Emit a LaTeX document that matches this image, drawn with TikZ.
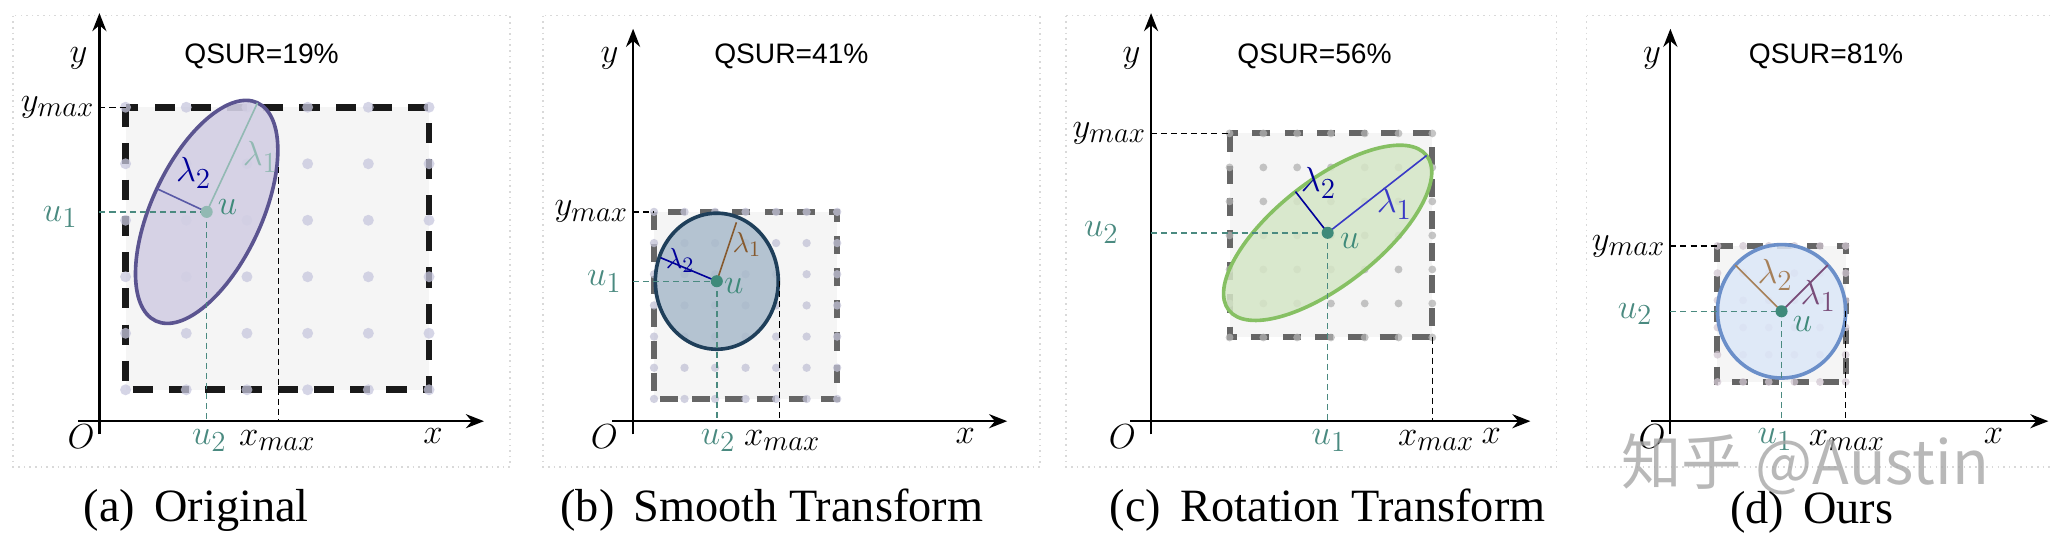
\documentclass[tikz,border=0pt]{standalone}
\usepackage{fontspec}
\setmainfont{Liberation Serif}
\newfontfamily\qsf{Liberation Sans}
\newfontfamily\cjk{Noto Sans CJK SC}
\usetikzlibrary{arrows.meta}
\definecolor{teal1}{HTML}{4A8A80}
\definecolor{udot}{HTML}{3F8A7A}
\definecolor{fa}{HTML}{D3CFE4}\definecolor{da}{HTML}{5B5490}
\definecolor{fb}{HTML}{A9BBCB}\definecolor{db}{HTML}{1F3F5A}
\definecolor{fc}{HTML}{D5E6C6}\definecolor{dc}{HTML}{86C063}
\definecolor{fd}{HTML}{DCE7F8}\definecolor{dd}{HTML}{6B8FC9}
\tikzset{
 x=0.65pt,y=-0.65pt,
 frm/.style={draw=black!15,dotted,line width=0.8pt},
 ax/.style={line width=1.1pt,-{Stealth[length=9pt,width=7pt]}},
 lab/.style={font=\fontsize{19}{22}\selectfont,inner sep=1pt},
 qs/.style={font=\qsf\fontsize{14}{16}\selectfont},
 captext/.style={font=\fontsize{23}{26}\selectfont},
 guide/.style={line width=0.7pt,dash pattern=on 3pt off 2pt},
 uguide/.style={teal1,line width=0.7pt,dash pattern=on 3pt off 2pt},
 udotst/.style={circle,fill=udot,inner sep=0pt,minimum size=6pt},
}
\newcommand{\dotgrid}[7]{%
 \foreach \i in {0,...,#5}{\foreach \j in {0,...,#5}{%
  \fill[#6,opacity=0.75] ({#1+\i*(#3-#1)/#5},{#2+\j*(#4-#2)/#5}) circle (#7);}}}
\begin{document}
\begin{tikzpicture}
\useasboundingbox (0,0) rectangle (1568,417);
% ---------- (a)
\draw[frm] (10,12) rectangle (390,357);
\fill[black!4] (96,82) rectangle (328,298);
\draw[black!90,line width=3.4pt,dash pattern=on 10pt off 8pt] (96,82) rectangle (328,298);
\dotgrid{96}{82}{328}{298}{5}{blue!25!gray!35}{4.2}
\draw[ax] (60,322) -- (370,322);
\draw[ax] (76,332) -- (76,10);
\node[lab] at (62,334) {$O$};
\node[lab] at (331,333) {$x$};
\node[lab] at (60,45) {$y$};
\node[qs] at (200,43) {QSUR=19\%};
\node[lab,anchor=east] (ymaxa) at (74,82) {$y_{max}$};
\draw[guide] (76,82) -- (96,82);
\coordinate (ua) at (158,162);
\filldraw[fill=fa,draw=da,line width=1.8pt,fill opacity=0.9,rotate around={65:(ua)}] (ua) ellipse (92 and 42);
\draw[teal1!60,line width=0.8pt] (ua) -- ++(-65:92);
\draw[blue!30!gray,line width=0.8pt] (ua) -- ++(-155:42);
\node[lab,teal1!60] at (199,120) {$\lambda_1$};
\node[lab,blue!60!black] at (148,132) {$\lambda_2$};
\draw[uguide] (76,162) -- (ua);
\draw[uguide] (ua) -- (158,322);
\node[udotst,fill=teal1!60] at (ua) {};
\node[lab,udot] at (174,158) {$u$};
\node[lab,teal1] at (46,166) {$u_1$};
\node[lab,teal1] at (160,337) {$u_2$};
\draw[guide] (213,128) -- (213,322);
\node[lab] at (212,337) {$x_{max}$};
\node[captext] at (150,390) {(a)\, Original};
% ---------- (b)
\draw[frm] (415,12) rectangle (795,357);
\fill[black!4] (500,162) rectangle (640,305);
\draw[black!60,line width=3pt,dash pattern=on 9pt off 7pt] (500,162) rectangle (640,305);
\dotgrid{500}{162}{640}{305}{6}{blue!20!gray!40}{3.2}
\draw[ax] (468,322) -- (770,322);
\draw[ax] (484,332) -- (484,22);
\node[lab] at (462,334) {$O$};
\node[lab] at (738,333) {$x$};
\node[lab] at (466,45) {$y$};
\node[qs] at (605,43) {QSUR=41\%};
\node[lab,anchor=east] at (482,162) {$y_{max}$};
\draw[guide] (484,162) -- (500,162);
\coordinate (ub) at (548,215);
\filldraw[fill=fb,draw=db,line width=1.8pt,fill opacity=0.85] (ub) ellipse (47 and 52);
\draw[brown!70!black,line width=0.8pt] (ub) -- (563,170);
\draw[blue!60!black,line width=0.8pt] (ub) -- (505,197);
\node[lab,brown!70!black,font=\fontsize{15}{18}\selectfont] at (571,187) {$\lambda_1$};
\node[lab,blue!60!black,font=\fontsize{15}{18}\selectfont] at (520,199) {$\lambda_2$};
\draw[uguide] (484,215) -- (ub);
\draw[uguide] (ub) -- (548,322);
\node[udotst] at (ub) {};
\node[lab,udot] at (561,219) {$u$};
\node[lab,teal1] at (462,215) {$u_1$};
\node[lab,teal1] at (549,337) {$u_2$};
\draw[guide] (596,215) -- (596,322);
\node[lab] at (598,337) {$x_{max}$};
\node[captext] at (590,390) {(b)\, Smooth Transform};
% ---------- (c)
\draw[frm] (815,12) rectangle (1190,357);
\fill[black!4] (940,102) rectangle (1095,258);
\draw[black!60,line width=3pt,dash pattern=on 9pt off 7pt] (940,102) rectangle (1095,258);
\dotgrid{940}{102}{1095}{258}{6}{black!30}{3}
\draw[ax] (864,322) -- (1170,322);
\draw[ax] (880,332) -- (880,10);
\node[lab] at (858,334) {$O$};
\node[lab] at (1140,333) {$x$};
\node[lab] at (865,45) {$y$};
\node[qs] at (1005,43) {QSUR=56\%};
\node[lab,anchor=east] at (878,102) {$y_{max}$};
\draw[guide] (880,102) -- (940,102);
\coordinate (uc) at (1015,178);
\filldraw[fill=fc,draw=dc,line width=1.8pt,fill opacity=0.85,rotate around={38:(uc)}] (uc) ellipse (96 and 40);
\draw[blue!55!gray,line width=0.8pt] (uc) -- ++(-38:96);
\draw[blue!60!black,line width=0.8pt] (uc) -- ++(-128:40);
\node[lab,blue!55!gray] at (1066,156) {$\lambda_1$};
\node[lab,blue!60!black] at (1008,140) {$\lambda_2$};
\draw[uguide] (880,178) -- (uc);
\draw[uguide] (uc) -- (1015,322);
\node[udotst] at (uc) {};
\node[lab,udot] at (1032,184) {$u$};
\node[lab,teal1] at (842,178) {$u_2$};
\node[lab,teal1] at (1016,337) {$u_1$};
\draw[guide] (1095,258) -- (1095,322);
\node[lab] at (1098,337) {$x_{max}$};
\node[captext] at (1015,390) {(c)\, Rotation Transform};
% ---------- (d)
\draw[frm] (1213,12) -- (1568,12);
\draw[frm] (1213,12) -- (1213,357) -- (1568,357);
\fill[black!4] (1313,188) rectangle (1411,292);
\draw[black!60,line width=3pt,dash pattern=on 8pt off 7pt] (1313,188) rectangle (1411,292);
\dotgrid{1313}{188}{1411}{292}{5}{violet!25!gray!35}{3}
\draw[ax] (1262,322) -- (1566,322);
\draw[ax] (1277,332) -- (1277,22);
\node[lab] at (1263,334) {$O$};
\node[lab] at (1524,333) {$x$};
\node[lab] at (1263,45) {$y$};
\node[qs] at (1396,43) {QSUR=81\%};
\node[lab,anchor=east] at (1275,188) {$y_{max}$};
\draw[guide] (1277,188) -- (1313,188);
\coordinate (ud) at (1362,238);
\filldraw[fill=fd,draw=dd,line width=1.8pt,fill opacity=0.85] (ud) ellipse (49 and 51);
\draw[violet!50!black!70,line width=0.8pt] (ud) -- ++(-45:50);
\draw[brown!60!gray,line width=0.8pt] (ud) -- ++(-135:50);
\node[lab,violet!50!black!70] at (1390,226) {$\lambda_1$};
\node[lab,brown!60!gray] at (1357,210) {$\lambda_2$};
\draw[uguide] (1277,238) -- (ud);
\draw[uguide] (ud) -- (1362,322);
\node[udotst] at (ud) {};
\node[lab,udot] at (1378,248) {$u$};
\node[lab,teal1] at (1250,240) {$u_2$};
\node[lab,teal1] at (1357,336) {$u_1$};
\draw[guide] (1411,238) -- (1411,322);
\node[lab] at (1412,337) {$x_{max}$};
\node[font=\cjk\fontsize{30}{34}\selectfont,text=black!35,opacity=0.8] at (1380,355) {知乎 @Austin};
\node[captext] at (1385,392) {(d)\, Ours};
\end{tikzpicture}
\end{document}
